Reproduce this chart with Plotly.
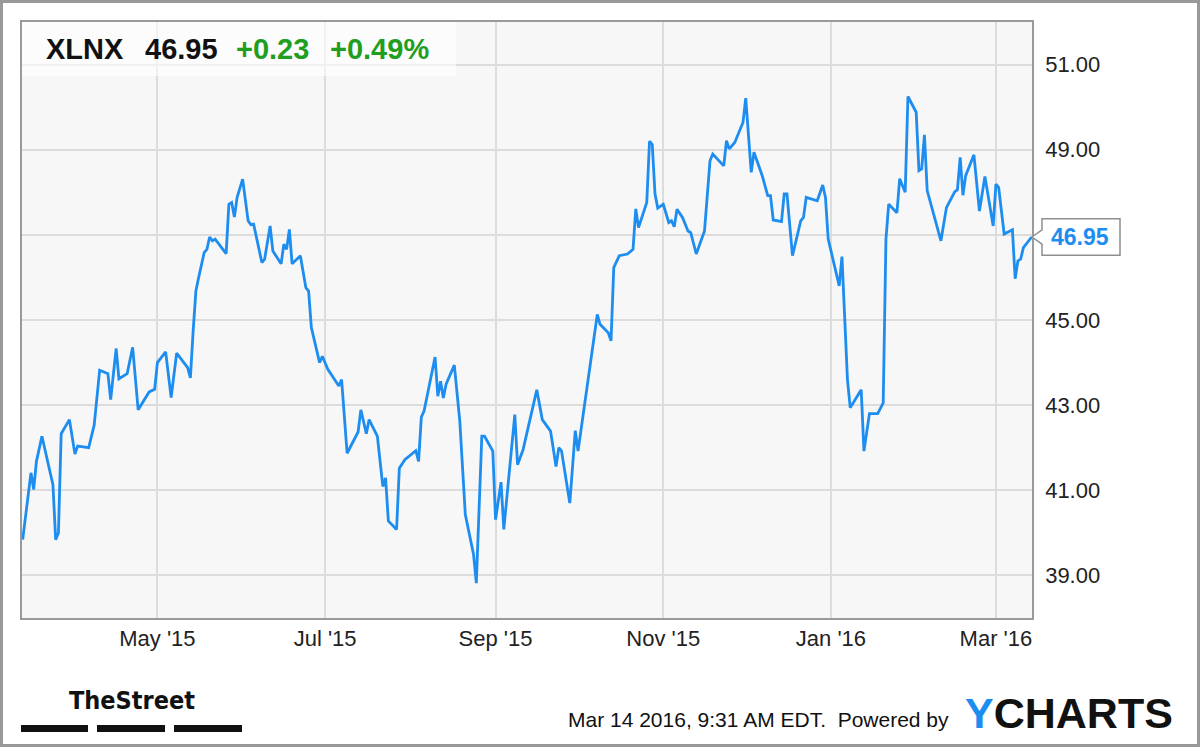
import plotly.graph_objects as go

# ---------------- data ----------------
ticker = "XLNX"
last_price = 46.95
change = 0.23
change_pct = 0.49
timestamp_text = "Mar 14 2016, 9:31 AM EDT."

dates = [
    "2015-03-13", "2015-03-16", "2015-03-17", "2015-03-18", "2015-03-20", "2015-03-24",
    "2015-03-25", "2015-03-26", "2015-03-27", "2015-03-30", "2015-04-01", "2015-04-02",
    "2015-04-06", "2015-04-08", "2015-04-10", "2015-04-13", "2015-04-14", "2015-04-16",
    "2015-04-17", "2015-04-20", "2015-04-22", "2015-04-24", "2015-04-28", "2015-04-30",
    "2015-05-01", "2015-05-04", "2015-05-06", "2015-05-08", "2015-05-12", "2015-05-13",
    "2015-05-14", "2015-05-15", "2015-05-16", "2015-05-18", "2015-05-19", "2015-05-20",
    "2015-05-21", "2015-05-22", "2015-05-26", "2015-05-27", "2015-05-28", "2015-05-29",
    "2015-05-30", "2015-06-01", "2015-06-03", "2015-06-04", "2015-06-05", "2015-06-08",
    "2015-06-09", "2015-06-11", "2015-06-12", "2015-06-15", "2015-06-16", "2015-06-17",
    "2015-06-18", "2015-06-19", "2015-06-22", "2015-06-24", "2015-06-25", "2015-06-26",
    "2015-06-29", "2015-06-30", "2015-07-02", "2015-07-06", "2015-07-07", "2015-07-09",
    "2015-07-13", "2015-07-14", "2015-07-16", "2015-07-17", "2015-07-20", "2015-07-22",
    "2015-07-23", "2015-07-24", "2015-07-27", "2015-07-28", "2015-07-30", "2015-08-03",
    "2015-08-04", "2015-08-05", "2015-08-06", "2015-08-10", "2015-08-11", "2015-08-12",
    "2015-08-13", "2015-08-14", "2015-08-17", "2015-08-19", "2015-08-21", "2015-08-24",
    "2015-08-25", "2015-08-27", "2015-08-28", "2015-08-31", "2015-09-01", "2015-09-03",
    "2015-09-04", "2015-09-08", "2015-09-09", "2015-09-11", "2015-09-16", "2015-09-18",
    "2015-09-21", "2015-09-23", "2015-09-24", "2015-09-25", "2015-09-28", "2015-09-30",
    "2015-10-01", "2015-10-03", "2015-10-06", "2015-10-08", "2015-10-09", "2015-10-12",
    "2015-10-13", "2015-10-14", "2015-10-16", "2015-10-19", "2015-10-21", "2015-10-22",
    "2015-10-23", "2015-10-24", "2015-10-26", "2015-10-27", "2015-10-28", "2015-10-29",
    "2015-10-30", "2015-11-01", "2015-11-03", "2015-11-04", "2015-11-05", "2015-11-06",
    "2015-11-08", "2015-11-10", "2015-11-11", "2015-11-13", "2015-11-16", "2015-11-18",
    "2015-11-19", "2015-11-23", "2015-11-24", "2015-11-25", "2015-11-27", "2015-11-30",
    "2015-12-01", "2015-12-03", "2015-12-04", "2015-12-07", "2015-12-09", "2015-12-10",
    "2015-12-11", "2015-12-14", "2015-12-15", "2015-12-16", "2015-12-18", "2015-12-21",
    "2015-12-22", "2015-12-23", "2015-12-27", "2015-12-29", "2015-12-30", "2015-12-31",
    "2016-01-04", "2016-01-05", "2016-01-07", "2016-01-08", "2016-01-12", "2016-01-13",
    "2016-01-15", "2016-01-18", "2016-01-20", "2016-01-21", "2016-01-22", "2016-01-25",
    "2016-01-26", "2016-01-28", "2016-01-29", "2016-02-01", "2016-02-02", "2016-02-03",
    "2016-02-04", "2016-02-05", "2016-02-10", "2016-02-12", "2016-02-15", "2016-02-16",
    "2016-02-17", "2016-02-18", "2016-02-19", "2016-02-22", "2016-02-24", "2016-02-26",
    "2016-02-29", "2016-03-01", "2016-03-02", "2016-03-04", "2016-03-07", "2016-03-08",
    "2016-03-09", "2016-03-10", "2016-03-11", "2016-03-14",
]

prices = [
    39.84, 41.41, 41.02, 41.68, 42.27, 41.13,
    39.84, 40.00, 42.33, 42.66, 41.85, 42.04,
    42.00, 42.53, 43.82, 43.74, 43.13, 44.33,
    43.62, 43.74, 44.36, 42.89, 43.31, 43.37,
    44.00, 44.25, 43.18, 44.22, 43.88, 43.64,
    44.74, 45.68, 46.00, 46.58, 46.66, 46.95,
    46.86, 46.90, 46.56, 47.72, 47.76, 47.42,
    47.88, 48.31, 47.33, 47.24, 47.25, 46.35,
    46.43, 47.21, 46.62, 46.32, 46.78, 46.66,
    47.13, 46.32, 46.51, 45.76, 45.68, 44.82,
    44.00, 44.15, 43.84, 43.45, 43.60, 41.87,
    42.37, 42.89, 42.33, 42.66, 42.27, 41.09,
    41.29, 40.28, 40.08, 41.52, 41.72, 41.93,
    41.68, 42.72, 42.86, 44.13, 43.21, 43.56,
    43.17, 43.49, 43.94, 42.62, 40.43, 39.49,
    38.82, 42.27, 42.27, 41.92, 40.31, 41.19,
    40.08, 42.78, 41.60, 41.95, 43.36, 42.66,
    42.39, 41.56, 42.00, 41.92, 40.70, 42.40,
    41.92, 42.86, 44.19, 45.13, 44.90, 44.70,
    44.51, 46.23, 46.51, 46.55, 46.66, 47.61,
    47.17, 47.37, 47.76, 49.20, 49.12, 47.96,
    47.63, 47.72, 47.29, 47.33, 47.19, 47.60,
    47.41, 47.09, 47.05, 46.55, 47.09, 48.74,
    48.90, 48.62, 49.21, 49.02, 49.17, 49.64,
    50.21, 48.47, 48.94, 48.39, 47.92, 47.92,
    47.35, 47.31, 47.96, 47.96, 46.51, 47.33,
    47.41, 47.88, 47.80, 48.17, 47.88, 46.90,
    45.80, 46.49, 43.60, 42.94, 43.36, 41.92,
    42.80, 42.80, 43.05, 46.90, 47.72, 47.52,
    48.32, 48.00, 50.25, 49.88, 48.51, 48.55,
    49.35, 48.04, 46.86, 47.64, 48.01, 48.06,
    48.82, 47.93, 48.39, 48.88, 47.56, 48.37,
    47.21, 48.19, 48.11, 47.02, 47.12, 45.97,
    46.39, 46.43, 46.70, 46.95,
]

y_ticks = [39, 41, 43, 45, 47, 49, 51]
y_range = [38, 52]
x_range = ["2015-03-12 18:00", "2016-03-14 03:00"]

# ---------------- layout geometry (pixels) ----------------
W, H = 1200, 747
PL, PR, PT, PB = 22, 1032, 22, 618   # plot area edges


def px(x):
    return (x - PL) / (PR - PL)


def py(y):
    return (PB - y) / (PB - PT)


LINE_BLUE = "#1e8df0"
GREEN = "#1f9e1f"
FONT = "Liberation Sans, Arial, sans-serif"

# labels hidden behind the last-price tag are left blank (as in the original)
y_ticktext = ["" if abs(t - last_price) < 0.6 else f"{t:.2f}" for t in y_ticks]

fig = go.Figure()
fig.add_trace(go.Scatter(
    x=dates, y=prices, mode="lines",
    line=dict(color=LINE_BLUE, width=2.8),
    hoverinfo="x+y",
))

fig.update_layout(
    width=W, height=H,
    margin=dict(l=PL, r=W - PR, t=PT, b=H - PB, pad=0),
    paper_bgcolor="white",
    plot_bgcolor="#f7f7f7",
    showlegend=False,
    font=dict(family=FONT, color="#222222"),
)

fig.update_xaxes(
    type="date", range=x_range,
    tick0="2015-05-01", dtick="M2", tickformat="%b '%y",
    showgrid=True, gridcolor="#dcdcdc", gridwidth=1.5,
    showline=True, linecolor="#9a9a9a", linewidth=1.5, mirror=True,
    ticks="", ticklabelstandoff=0,
    tickfont=dict(size=22, color="#222222", family=FONT),
    zeroline=False,
)
fig.update_yaxes(
    side="right", range=y_range,
    tickvals=y_ticks, ticktext=y_ticktext,
    showgrid=True, gridcolor="#dcdcdc", gridwidth=1.5,
    showline=True, linecolor="#9a9a9a", linewidth=1.5, mirror=True,
    ticks="", ticklabelstandoff=7,
    tickfont=dict(size=22, color="#222222", family=FONT),
    zeroline=False,
)

shapes = []
# outer border of image
shapes.append(dict(type="rect", xref="paper", yref="paper",
                   x0=px(1.5), x1=px(W - 1.5), y0=py(1.5), y1=py(H - 1.5),
                   line=dict(color="#999999", width=3), fillcolor="rgba(0,0,0,0)",
                   layer="above"))
# header box
shapes.append(dict(type="rect", xref="paper", yref="paper",
                   x0=px(PL), x1=px(456), y0=py(PT), y1=py(76),
                   line=dict(width=0), fillcolor="rgba(255,255,255,0.6)",
                   layer="above"))
# price tag (pointer at last value)
tx0, tx1, tx2 = px(PR), px(1042), px(1120)
half, ptr = 0.43, 0.17
v = last_price
tag_path = (f"M {tx0},{v} L {tx1},{v + ptr} L {tx1},{v + half} L {tx2},{v + half} "
            f"L {tx2},{v - half} L {tx1},{v - half} L {tx1},{v - ptr} Z")
shapes.append(dict(type="path", xref="paper", yref="y", path=tag_path,
                   line=dict(color="#8f8f8f", width=1.5), fillcolor="white",
                   layer="above"))
# TheStreet bars
for bx0, bx1 in [(21, 88), (97, 165), (174, 242)]:
    shapes.append(dict(type="rect", xref="paper", yref="paper",
                       x0=px(bx0), x1=px(bx1), y0=py(725), y1=py(732),
                       line=dict(width=0), fillcolor="#111111"))
fig.update_layout(shapes=shapes)

ann = []


def text(x, y, s, size, color="#111111", xanchor="left", family=FONT):
    ann.append(dict(xref="paper", yref="paper", x=px(x), y=py(y), text=s,
                    showarrow=False, xanchor=xanchor, yanchor="middle",
                    font=dict(size=size, color=color, family=family)))


text(44, 49, f"<b>{ticker}</b>", 29)
text(143, 49, f"<b>{last_price:.2f}</b>", 29)
text(234, 49, f"<b>+{change:.2f}</b>", 29, color=GREEN)
text(328, 49, f"<b>+{change_pct:.2f}%</b>", 29, color=GREEN)

# price tag text
ann.append(dict(xref="paper", yref="y", x=px(1080), y=last_price,
                text=f"<b>{last_price:.2f}</b>", showarrow=False,
                xanchor="center", yanchor="middle",
                font=dict(size=23, color=LINE_BLUE, family=FONT)))

# footer
text(132, 700, "<b>TheStreet</b>", 25, color="#111111", xanchor="center",
     family="Liberation Sans Narrow, Arial Narrow, DejaVu Sans Condensed, Liberation Sans, sans-serif")
text(951, 719, f"{timestamp_text}  Powered by", 21, color="#111111", xanchor="right")
text(963, 713, f"<b><span style='color:{LINE_BLUE}'>Y</span>CHARTS</b>", 43,
     color="#111111")

fig.update_layout(annotations=ann)

fig.write_html("out.html", config={"displayModeBar": False},
               post_script="document.body.style.margin='0';")
